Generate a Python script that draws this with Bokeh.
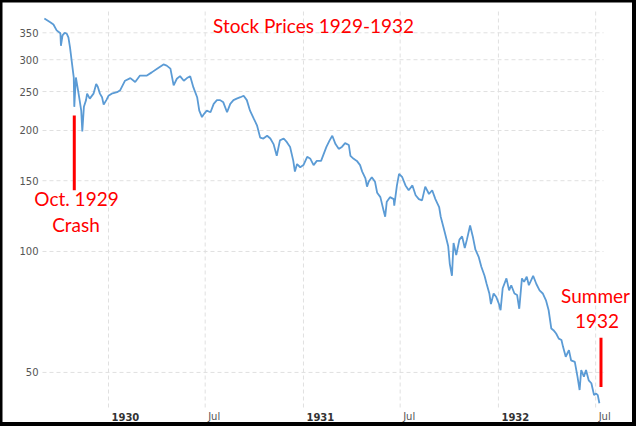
from datetime import datetime
import math
import pandas as pd
from bokeh.plotting import figure
from bokeh.models import Label, Range1d, LogScale, Column, ColumnDataSource
from bokeh.core.properties import value
from bokeh.embed import file_html
from bokeh.resources import INLINE

# ---- data (Dow Jones Industrial Average, log scale) ----
dates = [
    "1929-09-03", "1929-09-14", "1929-09-20", "1929-09-26", "1929-10-03", "1929-10-04",
    "1929-10-07", "1929-10-11", "1929-10-15", "1929-10-18", "1929-10-21", "1929-10-24",
    "1929-10-28", "1929-10-29", "1929-11-01", "1929-11-05", "1929-11-08", "1929-11-11",
    "1929-11-13", "1929-11-16", "1929-11-20", "1929-11-22", "1929-11-27", "1929-12-04",
    "1929-12-09", "1929-12-12", "1929-12-16", "1929-12-20", "1929-12-23", "1929-12-28",
    "1930-01-01", "1930-01-07", "1930-01-17", "1930-01-23", "1930-02-01", "1930-02-11",
    "1930-02-20", "1930-03-01", "1930-03-14", "1930-03-23", "1930-04-02", "1930-04-14",
    "1930-04-20", "1930-04-27", "1930-05-03", "1930-05-09", "1930-05-15", "1930-05-22",
    "1930-05-28", "1930-06-03", "1930-06-09", "1930-06-16", "1930-06-20", "1930-06-25",
    "1930-06-29", "1930-07-04", "1930-07-11", "1930-07-17", "1930-07-23", "1930-07-29",
    "1930-08-04", "1930-08-11", "1930-08-17", "1930-08-23", "1930-08-29", "1930-09-05",
    "1930-09-11", "1930-09-17", "1930-09-23", "1930-09-30", "1930-10-06", "1930-10-12",
    "1930-10-18", "1930-10-25", "1930-10-31", "1930-11-06", "1930-11-12", "1930-11-18",
    "1930-11-25", "1930-12-01", "1930-12-07", "1930-12-13", "1930-12-16", "1930-12-20",
    "1930-12-26", "1931-01-01", "1931-01-08", "1931-01-14", "1931-01-20", "1931-01-26",
    "1931-02-03", "1931-02-13", "1931-02-19", "1931-02-24", "1931-03-02", "1931-03-08",
    "1931-03-14", "1931-03-20", "1931-03-27", "1931-03-30", "1931-04-05", "1931-04-11",
    "1931-04-17", "1931-04-21", "1931-04-27", "1931-04-30", "1931-05-03", "1931-05-09",
    "1931-05-15", "1931-05-19", "1931-05-25", "1931-05-31", "1931-06-03", "1931-06-06",
    "1931-06-12", "1931-06-19", "1931-06-20", "1931-06-25", "1931-06-29", "1931-07-05",
    "1931-07-11", "1931-07-17", "1931-07-24", "1931-07-30", "1931-08-05", "1931-08-11",
    "1931-08-17", "1931-08-24", "1931-08-30", "1931-09-05", "1931-09-12", "1931-09-15",
    "1931-09-20", "1931-09-23", "1931-09-29", "1931-10-02", "1931-10-06", "1931-10-09",
    "1931-10-14", "1931-10-20", "1931-10-25", "1931-10-30", "1931-11-03", "1931-11-09",
    "1931-11-14", "1931-11-19", "1931-11-25", "1931-11-30", "1931-12-06", "1931-12-10",
    "1931-12-15", "1931-12-18", "1931-12-23", "1931-12-28", "1932-01-02", "1932-01-05",
    "1932-01-09", "1932-01-16", "1932-01-21", "1932-01-25", "1932-01-31", "1932-02-05",
    "1932-02-09", "1932-02-14", "1932-02-18", "1932-02-23", "1932-02-27", "1932-03-06",
    "1932-03-12", "1932-03-18", "1932-03-24", "1932-03-30", "1932-04-04", "1932-04-09",
    "1932-04-13", "1932-04-18", "1932-04-23", "1932-04-28", "1932-05-01", "1932-05-06",
    "1932-05-12", "1932-05-16", "1932-05-23", "1932-05-28", "1932-06-01", "1932-06-04",
    "1932-06-09", "1932-06-13", "1932-06-18", "1932-06-23", "1932-06-28", "1932-07-02",
    "1932-07-05", "1932-07-08",
]
values = [
    380, 372, 367, 355, 349, 325,
    345, 350, 348, 341, 322, 299,
    271, 229, 271, 252, 238, 224,
    199, 229, 238, 247, 240, 247,
    261, 257, 247, 242, 232, 238,
    244, 247, 249, 252, 266, 270,
    264, 274, 274, 279, 285, 292,
    290, 285, 259, 269, 273, 266,
    270, 273, 256, 242, 224, 216,
    220, 224, 222, 233, 238, 238,
    235, 222, 233, 238, 240, 242,
    244, 238, 224, 214, 206, 192,
    191, 194, 191, 185, 173, 189,
    191, 187, 182, 168, 158, 165,
    162, 164, 172, 170, 164, 168,
    168, 182, 189, 194, 185, 180,
    182, 186, 184, 173, 170, 168,
    164, 158, 152, 145, 149, 153,
    149, 140, 136.5, 126.5, 122, 133,
    136.5, 135, 130, 146, 156, 153,
    146, 142, 146, 138, 135, 134,
    145, 139, 142, 135, 129, 122,
    115, 111, 103, 93, 87, 105,
    98, 107, 109, 102, 107, 116,
    109, 101, 97, 91.6, 87, 83,
    78.6, 74, 78.6, 77, 74, 71.4,
    81, 85.7, 80, 82.4, 78.6, 77.9,
    72, 85.7, 84, 86.5, 82.4, 87,
    83, 80, 78.6, 75.6, 71.4, 64.3,
    63.7, 62.5, 60.7, 60.2, 57.9, 54.7,
    56.8, 53.6, 53.1, 48.8, 45.2, 50.7,
    48.8, 50.7, 47.8, 47.0, 43.9, 44.3,
    43.9, 41.9,
]

y_ticks = [50, 100, 150, 200, 250, 300, 350]
y_tick_labels = ["50", "100", "150", "200", "250", "300", "350"]
x_tick_dates = ["1930-01-01", "1930-07-01", "1931-01-01", "1931-07-01", "1932-01-01", "1932-07-01"]
x_tick_labels = ["1930", "Jul", "1931", "Jul", "1932", "Jul"]
x_tick_bold = [True, False, True, False, True, False]

title_text = "Stock Prices  1929-1932"
crash_texts = ["Oct. 1929", "Crash"]
summer_texts = ["Summer", "1932"]
marker_dates = ["1929-10-29", "1932-07-11"]
marker_low = [142, 46]
marker_high = [218, 61]

# ---- plot area (inner data box) and the padding around it, in pixels ----
area_start = pd.Timestamp("1929-08-30 12:00")
area_end = pd.Timestamp("1932-07-15 17:00")
area_lo, area_hi = 40.9, 400.0
W, H = 630, 420
PAD_L, PAD_R, PAD_T, PAD_B = 40, 29, 7, 15
area_w = W - PAD_L - PAD_R
area_h = H - PAD_T - PAD_B

span = area_end - area_start
x_start = area_start - span * (PAD_L / area_w)
x_end = area_end + span * (PAD_R / area_w)
lg_lo, lg_hi = math.log10(area_lo), math.log10(area_hi)
per_px = (lg_hi - lg_lo) / area_h
y_start = 10 ** (lg_lo - PAD_B * per_px)
y_end = 10 ** (lg_hi + PAD_T * per_px)

RED = "#ff0000"
LINE = "#5b9bd5"
GRID = "#e0e0e0"

p = figure(width=W, height=H, output_backend="svg", toolbar_location=None,
           x_axis_type=None, y_axis_type=None,
           x_range=Range1d(x_start.to_pydatetime(), x_end.to_pydatetime()),
           y_range=Range1d(y_start, y_end),
           min_border=0)
p.y_scale = LogScale()
p.outline_line_color = None
p.background_fill_color = "white"
p.border_fill_color = "white"
p.margin = (2, 4, 4, 2)

# grid lines (dashed), bounded to the plot area
xt = pd.to_datetime(x_tick_dates)
hsrc = ColumnDataSource(dict(x0=[area_start] * len(y_ticks), x1=[area_end] * len(y_ticks), y=y_ticks))
p.segment(x0="x0", y0="y", x1="x1", y1="y", source=hsrc,
          line_color=GRID, line_width=1, line_dash="4 3")
vsrc = ColumnDataSource(dict(x=xt, y0=[area_lo] * len(xt), y1=[area_hi] * len(xt)))
p.segment(x0="x", y0="y0", x1="x", y1="y1", source=vsrc,
          line_color=GRID, line_width=1, line_dash="4 3")

# y tick labels
ysrc = ColumnDataSource(dict(x=[area_start] * len(y_ticks), y=y_ticks, t=y_tick_labels))
p.text(x="x", y="y", text="t", source=ysrc, x_offset=-4, text_align="right",
       text_baseline="middle", text_font=value("DejaVu Sans"),
       text_font_size="10px", text_color="#555555")

# x tick labels (years bold, months normal)
xb = [d for d, b in zip(xt, x_tick_bold) if b]
xbl = [t for t, b in zip(x_tick_labels, x_tick_bold) if b]
xn = [d for d, b in zip(xt, x_tick_bold) if not b]
xnl = [t for t, b in zip(x_tick_labels, x_tick_bold) if not b]
p.text(x=xb, y=[area_lo] * len(xb), text=xbl, x_offset=3, y_offset=9,
       text_align="left", text_baseline="middle", text_font=value("DejaVu Sans"),
       text_font_size="10px", text_font_style="bold", text_color="#333333")
p.text(x=xn, y=[area_lo] * len(xn), text=xnl, x_offset=3, y_offset=9,
       text_align="left", text_baseline="middle", text_font=value("DejaVu Sans"),
       text_font_size="10px", text_color="#555555")

# price line
src = ColumnDataSource(dict(date=pd.to_datetime(dates), value=values))
p.line("date", "value", source=src, line_color=LINE, line_width=1.8)

# red markers
seg = ColumnDataSource(dict(x=pd.to_datetime(marker_dates), y0=marker_low, y1=marker_high))
p.segment(x0="x", y0="y0", x1="x", y1="y1", source=seg, line_color=RED, line_width=3)


def red_label(text, sx, sy):
    p.add_layout(Label(x=sx, y=sy, x_units="screen", y_units="screen", text=text,
                       text_align="center", text_baseline="alphabetic",
                       text_font="Lato", text_font_size="19px", text_color=RED))


red_label(title_text, 313.5, 397)
red_label(crash_texts[0], 74, 224)
red_label(crash_texts[1], 73.5, 198)
red_label(summer_texts[0], 593, 127)
red_label(summer_texts[1], 594.5, 102)

layout = Column(p, styles={"background-color": "black"})
open("out.html", "w").write(file_html(layout, INLINE))
